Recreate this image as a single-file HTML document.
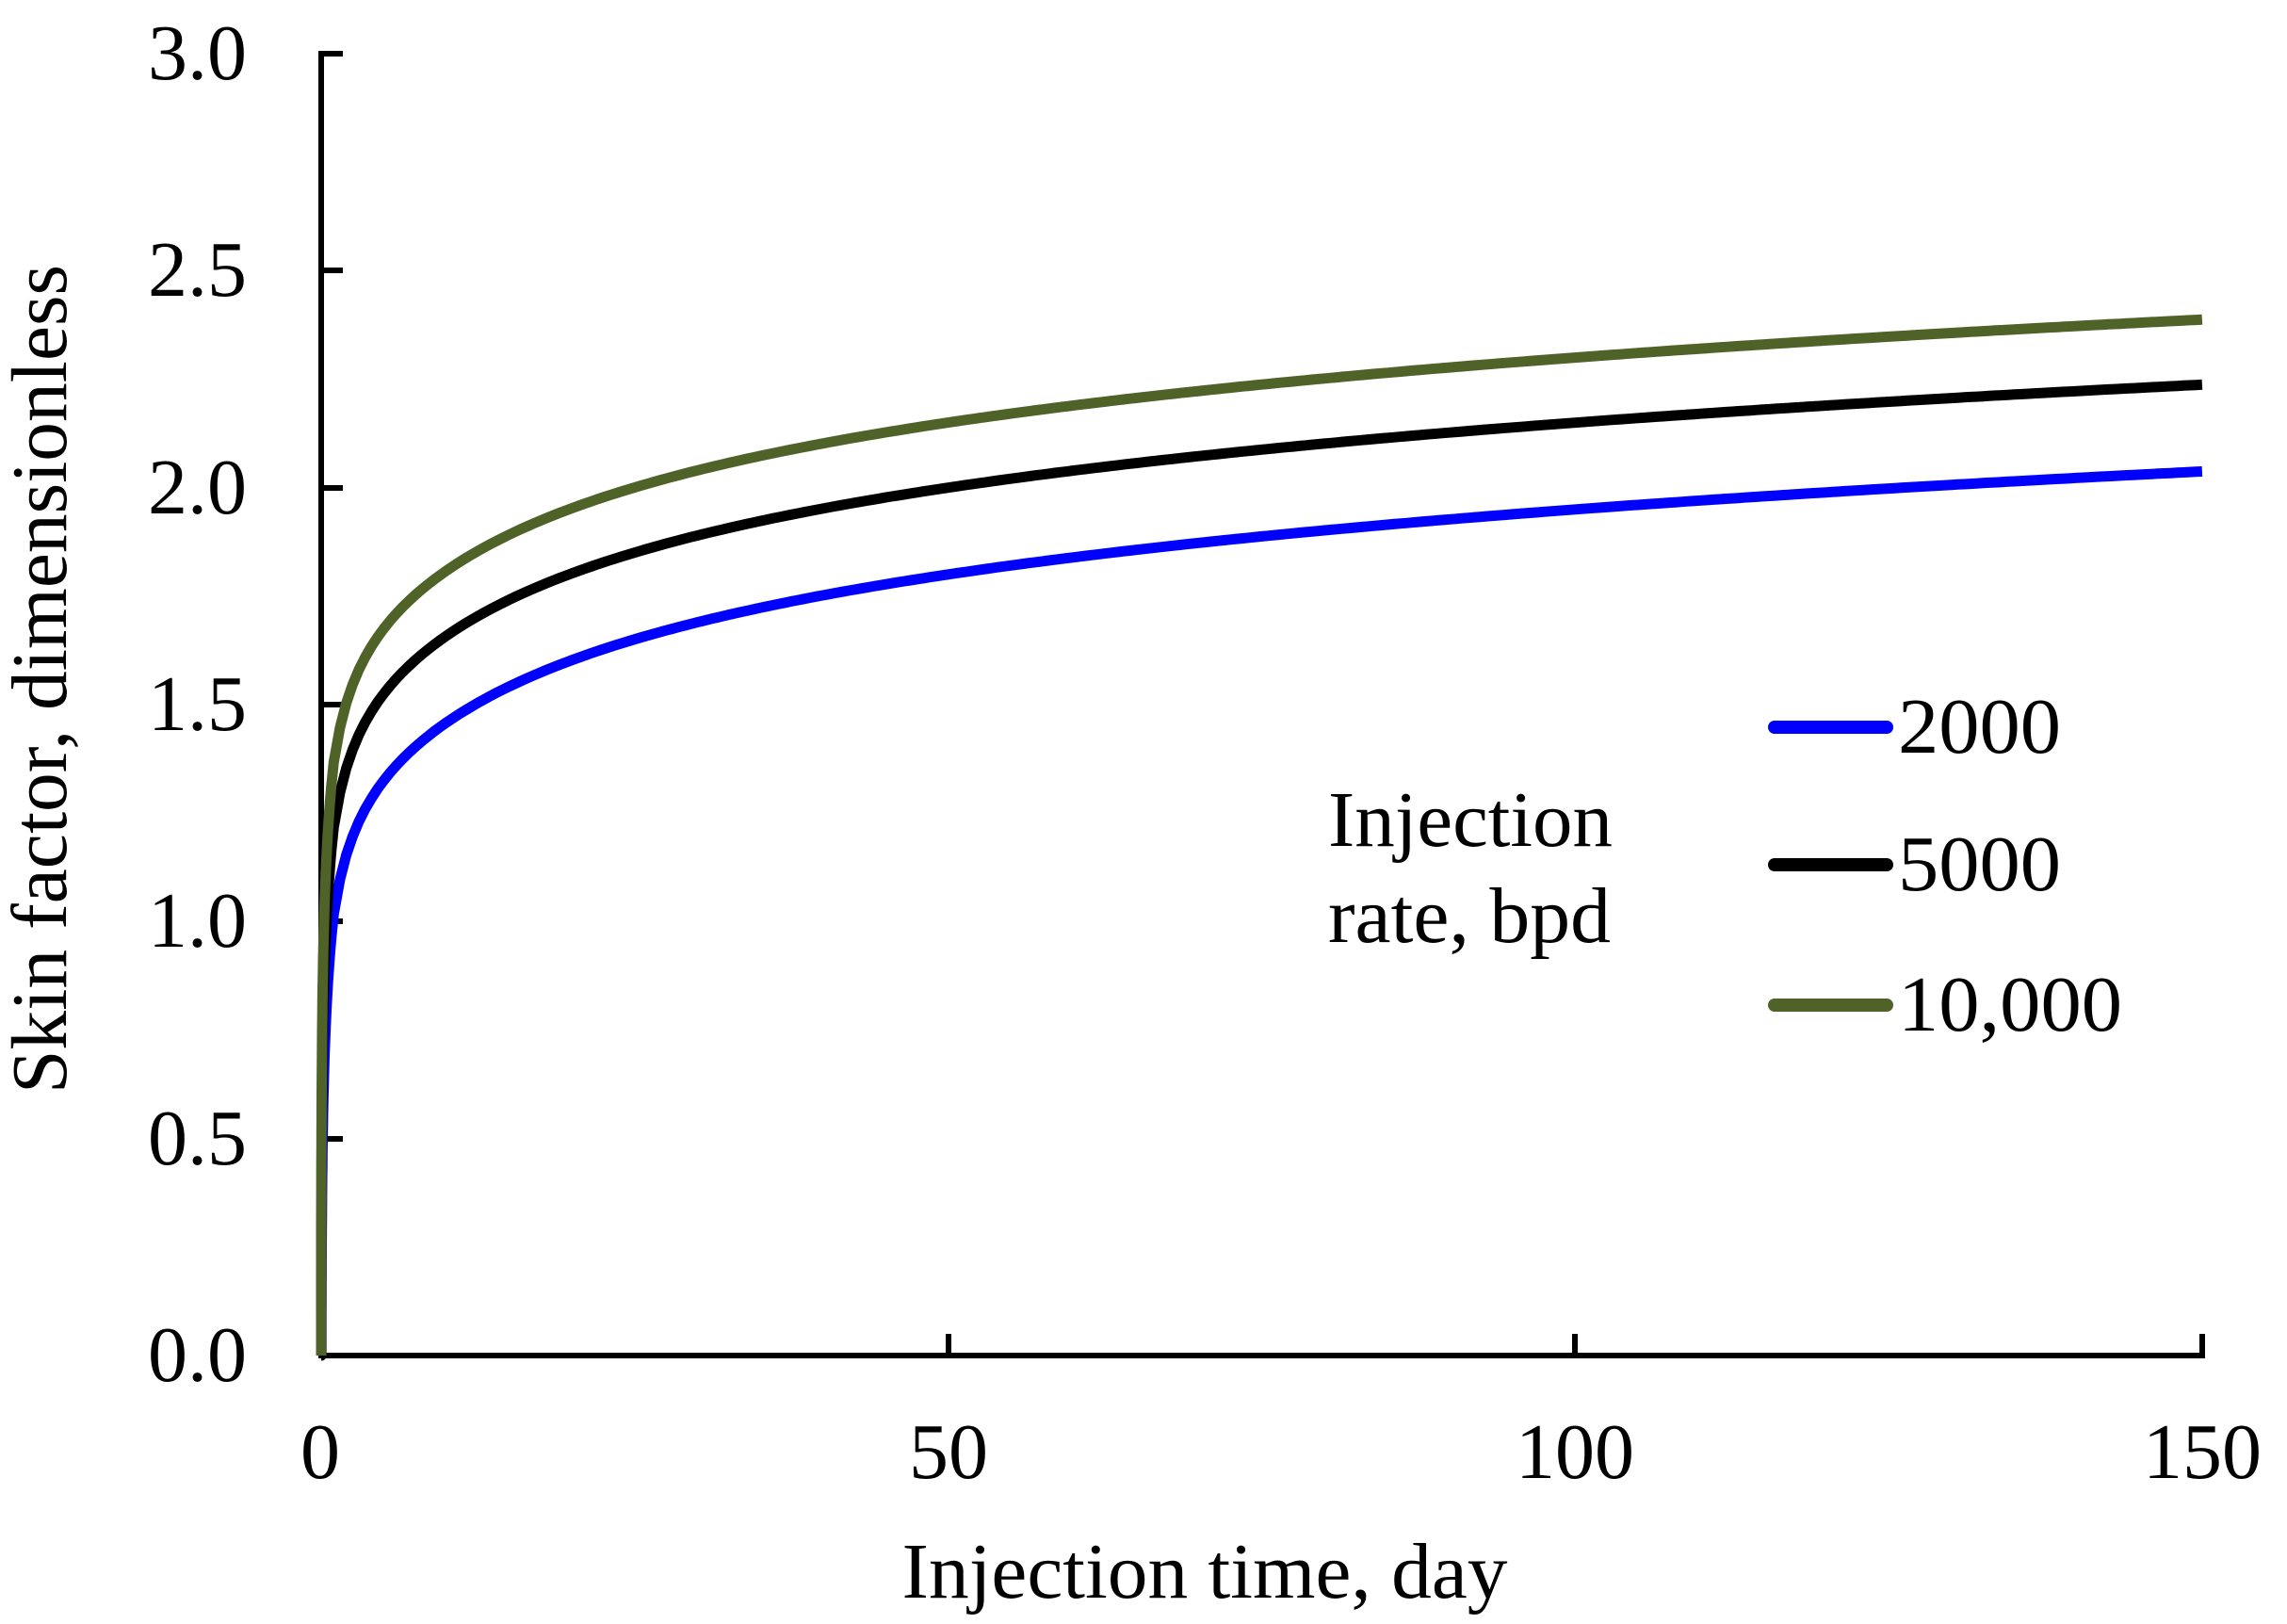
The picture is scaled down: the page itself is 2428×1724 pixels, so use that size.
<!DOCTYPE html>
<html><head><meta charset="utf-8">
<style>html,body{margin:0;padding:0;background:#fff;}svg{display:block;}</style>
</head><body>
<svg id="c" width="2428" height="1724" viewBox="0 0 2428 1724" xmlns="http://www.w3.org/2000/svg" font-family="Liberation Serif, serif" fill="#000">
<g stroke="#000" stroke-width="6" fill="none">
<line x1="341" y1="54" x2="341" y2="1442"/>
<line x1="338" y1="1439" x2="2341" y2="1439"/>
<line x1="341" y1="57" x2="364" y2="57"/>
<line x1="341" y1="287" x2="364" y2="287"/>
<line x1="341" y1="518" x2="364" y2="518"/>
<line x1="341" y1="748" x2="364" y2="748"/>
<line x1="341" y1="978" x2="364" y2="978"/>
<line x1="341" y1="1209" x2="364" y2="1209"/>
<line x1="1007" y1="1439" x2="1007" y2="1416"/>
<line x1="1672" y1="1439" x2="1672" y2="1416"/>
<line x1="2338" y1="1439" x2="2338" y2="1416"/>
</g>
<g font-size="84" text-anchor="end">
<text x="262" y="84">3.0</text>
<text x="262" y="314">2.5</text>
<text x="262" y="545">2.0</text>
<text x="262" y="775">1.5</text>
<text x="262" y="1005">1.0</text>
<text x="262" y="1236">0.5</text>
<text x="262" y="1466">0.0</text>
</g>
<g font-size="84" text-anchor="middle">
<text x="340" y="1569">0</text>
<text x="1007" y="1569">50</text>
<text x="1672" y="1569">100</text>
<text x="2338" y="1569">150</text>
<text x="1279" y="1696" textLength="643" lengthAdjust="spacingAndGlyphs">Injection time, day</text>
</g>
<text font-size="84" text-anchor="middle" transform="translate(70,721) rotate(-90)" textLength="880" lengthAdjust="spacingAndGlyphs">Skin factor, dimensionless</text>
<g id="curves" fill="none" stroke-width="11" stroke-linejoin="round"></g>
<g stroke-width="14" stroke-linecap="round">
<line x1="1884" y1="772" x2="2003" y2="772" stroke="#0000ff"/>
<line x1="1884" y1="918" x2="2003" y2="918" stroke="#000"/>
<line x1="1884" y1="1067" x2="2003" y2="1067" stroke="#4f6228"/>
</g>
<g font-size="84">
<text x="2015" y="799" textLength="173" lengthAdjust="spacingAndGlyphs">2000</text>
<text x="2015" y="945" textLength="173" lengthAdjust="spacingAndGlyphs">5000</text>
<text x="2015" y="1094" textLength="238" lengthAdjust="spacingAndGlyphs">10,000</text>
<text x="1410" y="898" textLength="302" lengthAdjust="spacingAndGlyphs">Injection</text>
<text x="1410" y="1000" textLength="300" lengthAdjust="spacingAndGlyphs">rate, bpd</text>
</g>
<script>
(function(){
var g=document.getElementById('curves');
var ser=[[0.955,'#0000ff'],[1.155,'#000000'],[1.305,'#4f6228']];
ser.forEach(function(s){
  var a=s[0],b=0.216,d='M341,1439';
  var ts=[];
  for(var t=0.002;t<1;t*=1.15)ts.push(t);
  for(var t=1;t<=150;t+=0.5)ts.push(t);
  ts.forEach(function(t){
    var S=a+b*Math.log(t)+0.08*Math.exp(-t/4)*(t<1?t:1);
    if(S<0)S=0;
    var x=341+t*13.313,y=1439-S*460.67;
    d+=' L'+x.toFixed(1)+','+y.toFixed(1);
  });
  var p=document.createElementNS('http://www.w3.org/2000/svg','path');
  p.setAttribute('d',d);p.setAttribute('stroke',s[1]);
  g.appendChild(p);
});
})();
</script>
</svg>
</body></html>
